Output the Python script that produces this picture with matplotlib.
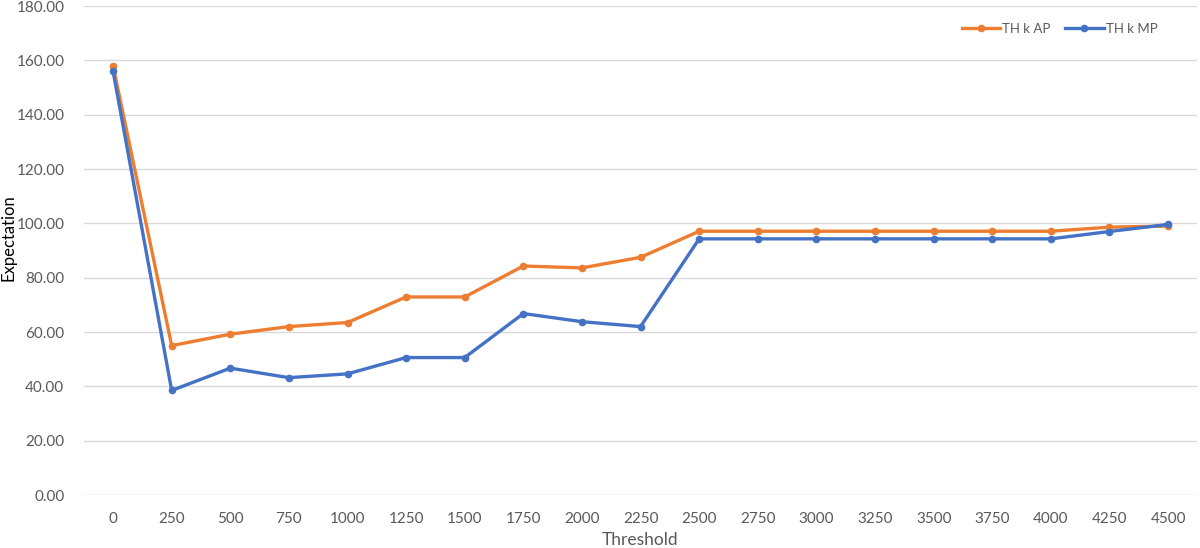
import matplotlib
matplotlib.use("Agg")
import matplotlib.pyplot as plt

thresholds = ["0", "250", "500", "750", "1000", "1250", "1500", "1750", "2000", "2250",
              "2500", "2750", "3000", "3250", "3500", "3750", "4000", "4250", "4500"]
th_k_ap = [158.0, 55.0, 59.2, 62.0, 63.5, 72.9, 72.9, 84.3, 83.6, 87.5,
           97.1, 97.1, 97.1, 97.1, 97.1, 97.1, 97.1, 98.6, 99.0]
th_k_mp = [156.0, 38.5, 46.7, 43.2, 44.6, 50.6, 50.6, 66.8, 63.8, 62.0,
           94.3, 94.3, 94.3, 94.3, 94.3, 94.3, 94.3, 97.0, 99.6]
y_ticks = [0, 20, 40, 60, 80, 100, 120, 140, 160, 180]

plt.rcParams['font.family'] = ['Lato', 'DejaVu Sans']
txt = '#595959'

fig = plt.figure(figsize=(12, 5.48), dpi=100)
ax = fig.add_axes([0.0698, 0.0967, 0.928, 0.8923])

x = list(range(len(thresholds)))
ax.plot(x, th_k_ap, color='#ED7D31', lw=2.4, marker='o', ms=4.5, label='TH k AP', zorder=3)
ax.plot(x, th_k_mp, color='#4472C4', lw=2.4, marker='o', ms=4.5, label='TH k MP', zorder=3)

ax.set_xlim(-0.5, len(thresholds) - 0.5)
ax.set_ylim(0, 180)
ax.set_yticks(y_ticks)
ax.set_yticklabels([f"{v:.2f}" for v in y_ticks])
ax.set_xticks(x)
ax.set_xticklabels(thresholds)
ax.grid(axis='y', color='#D9D9D9', lw=1)
ax.set_axisbelow(True)
for s in ax.spines.values():
    s.set_visible(False)
ax.tick_params(length=0, labelsize=11, colors=txt)
ax.tick_params(axis='x', pad=12)
ax.tick_params(axis='y', pad=14)

fig.text(640 / 1200, 1 - 540 / 548, 'Threshold', fontsize=12.5, color=txt,
         ha='center', va='center')
fig.text(9 / 1200, 1 - 238 / 548, 'Expectation', fontsize=12, color='black',
         ha='center', va='center', rotation=90)

ax.legend(loc='upper right', bbox_to_anchor=(1158 / 1200, 1 - 23 / 548),
          bbox_transform=fig.transFigure, ncol=2, frameon=False, borderpad=0,
          borderaxespad=0, fontsize=9.5, handlelength=2.9, columnspacing=1.1,
          handletextpad=0.2, labelcolor=txt)

fig.savefig('out.png', dpi=100)
